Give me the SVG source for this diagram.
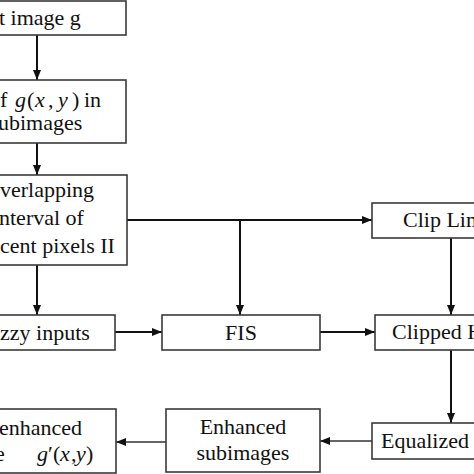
<svg xmlns="http://www.w3.org/2000/svg" width="474" height="474" viewBox="0 0 474 474">
<defs>
<marker id="ah" markerUnits="userSpaceOnUse" markerWidth="10" markerHeight="8" refX="10" refY="4" orient="auto">
<path d="M0,0 L10,4 L0,8 z" fill="#111"/>
</marker>
<style>
.box{fill:#fff;stroke:#3a3a3a;stroke-width:1.6}
.t{font-family:"Liberation Serif","Times New Roman",serif;font-size:22px;fill:#111}
.m{font-style:italic}
.c{stroke:#111;stroke-width:2;fill:none;marker-end:url(#ah)}
.c2{stroke:#333;stroke-width:1.5;fill:none;marker-end:url(#ah)}
</style>
</defs>
<rect width="474" height="474" fill="#fff"/>
<g id="connectors">
<line class="c" x1="37" y1="35" x2="37" y2="80"/>
<line class="c" x1="37" y1="143" x2="37" y2="175"/>
<line class="c" x1="127" y1="220" x2="372" y2="220"/>
<line class="c" x1="240" y1="220" x2="240" y2="315"/>
<line class="c" x1="37" y1="265" x2="37" y2="315"/>
<line class="c" x1="115" y1="332" x2="162" y2="332"/>
<line class="c" x1="320" y1="332" x2="375" y2="332"/>
<line class="c" x1="451" y1="238" x2="451" y2="315"/>
<line class="c" x1="451" y1="350" x2="451" y2="423"/>
<line class="c2" x1="372" y1="441" x2="320" y2="441"/>
<line class="c2" x1="166" y1="442" x2="116" y2="442"/>
</g>
<g id="input">
<rect class="box" x="-10" y="1" width="136" height="34"/>
<text class="t" x="-1" y="25">t image g</text>
</g>
<g id="histogram">
<rect class="box" x="-10" y="80" width="136" height="63"/>
<text class="t" y="107"><tspan x="0">f</tspan><tspan x="15" class="m">g</tspan><tspan x="27">(</tspan><tspan x="35" class="m">x</tspan><tspan x="48">,</tspan><tspan x="58" class="m">y</tspan><tspan x="72">)</tspan><tspan x="84">in</tspan></text>
<text class="t" x="-2" y="130">ubimages</text>
</g>
<g id="overlap">
<rect class="box" x="-10" y="175" width="137" height="90"/>
<text class="t" x="0" y="197">verlapping</text>
<text class="t" x="-1" y="225">nterval of</text>
<text class="t" x="0" y="253">cent pixels II</text>
</g>
<g id="fuzzy">
<rect class="box" x="-10" y="315" width="125" height="35"/>
<text class="t" x="0" y="340">zzy inputs</text>
</g>
<g id="fis">
<rect class="box" x="162" y="315" width="158" height="35"/>
<text class="t" x="241" y="340" text-anchor="middle">FIS</text>
</g>
<g id="cliplimit">
<rect class="box" x="372" y="203" width="112" height="35"/>
<text class="t" x="403" y="227">Clip Lim</text>
</g>
<g id="clipped">
<rect class="box" x="375" y="315" width="109" height="35"/>
<text class="t" x="392" y="339">Clipped H</text>
</g>
<g id="equalized">
<rect class="box" x="372" y="423" width="112" height="36"/>
<text class="t" x="381" y="448">Equalized</text>
</g>
<g id="enhanced">
<rect class="box" x="166" y="409" width="154" height="63"/>
<text class="t" x="243" y="434" text-anchor="middle">Enhanced</text>
<text class="t" x="243" y="460" text-anchor="middle">subimages</text>
</g>
<g id="output">
<rect class="box" x="-10" y="409" width="126" height="64"/>
<text class="t" x="-1" y="435">enhanced</text>
<text class="t" y="461"><tspan x="-5">e</tspan><tspan x="37" class="m">g</tspan><tspan x="48">′</tspan><tspan x="53">(</tspan><tspan x="60" class="m">x</tspan><tspan x="71">,</tspan><tspan x="76" class="m">y</tspan><tspan x="86">)</tspan></text>
</g>
</svg>
